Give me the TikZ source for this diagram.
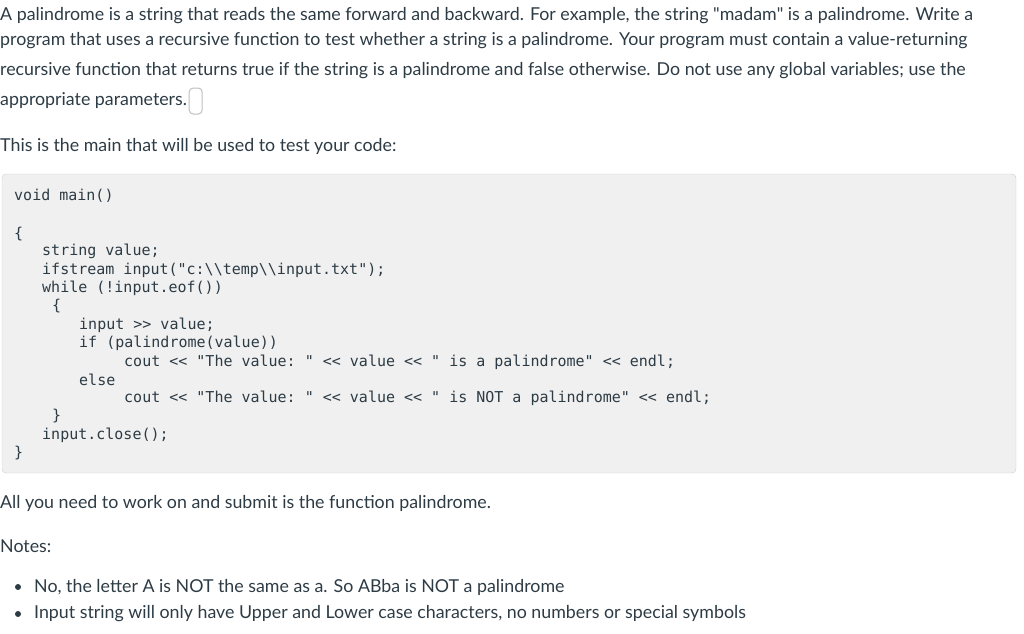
\documentclass[tikz,border=0pt]{standalone}
\usepackage{fontspec}
\setmainfont{Lato}
\setmonofont{DejaVu Sans Mono}
\definecolor{txt}{HTML}{2D3B45}
\begin{document}
\begin{tikzpicture}[x=1pt,y=-1pt,
  body/.style={anchor=west,inner sep=0pt,font=\fontsize{17.8}{20}\selectfont,text=txt},
  code/.style={anchor=west,inner sep=0pt,font=\ttfamily\fontsize{15}{18}\selectfont,text=txt}]
\useasboundingbox (0,0) rectangle (1024,633);
\node[body] (l1) at (0,16) {A palindrome is a string that reads the same forward and backward. For example, the string \textquotedbl madam\textquotedbl{} is a palindrome. Write a};
\node[body] (l2) at (0,41) {program that uses a recursive function to test whether a string is a palindrome. Your program must contain a value-returning};
\node[body] (l3) at (0,71) {recursive function that returns true if the string is a palindrome and false otherwise. Do not use any global variables; use the};
\node[body] (l4) at (0,101) {appropriate parameters.};
\draw[rounded corners=4pt,draw=gray!50,line width=1pt] ([xshift=2pt,yshift=13pt]l4.east) rectangle ([xshift=15pt,yshift=-13pt]l4.east);
\node[body] (l5) at (0,146) {This is the main that will be used to test your code:};
\draw[rounded corners=4pt,fill=black!6,draw=black!20] (2,174) rectangle (1016,473);
\begin{scope}[yshift=-2pt]
\node[code] at (14,194) {void main()};
\node[code] at (14,232) {\{};
\node[code] at (42,249) {string value;};
\node[code] at (42,268) {ifstream input("c:\textbackslash\textbackslash temp\textbackslash\textbackslash input.txt");};
\node[code] at (42,286) {while (!input.eof())};
\node[code] at (52,304) {\{};
\node[code] at (79,323) {input >> value;};
\node[code] at (79,341) {if (palindrome(value))};
\node[code] at (124,360) {cout << "The value:  " << value << " is a palindrome" << endl;};
\node[code] at (79,378) {else};
\node[code] at (124,396) {cout << "The value:  " << value << " is NOT a palindrome" << endl;};
\node[code] at (52,414) {\}};
\node[code] at (42,433) {input.close();};
\node[code] at (14,451) {\}};
\end{scope}
\node[body] (l6) at (0,503) {All you need to work on and submit is the function palindrome.};
\node[body] (l7) at (0,546) {Notes:};
\fill[txt] (18,587) circle (3pt);
\node[body] (b1) at (34,587) {No, the letter A is NOT the same as a. So ABba is NOT a palindrome};
\fill[txt] (18,614) circle (3pt);
\node[body] (b2) at (34,614) {Input string will only have Upper and Lower case characters, no numbers or special symbols};
\end{tikzpicture}
\end{document}
